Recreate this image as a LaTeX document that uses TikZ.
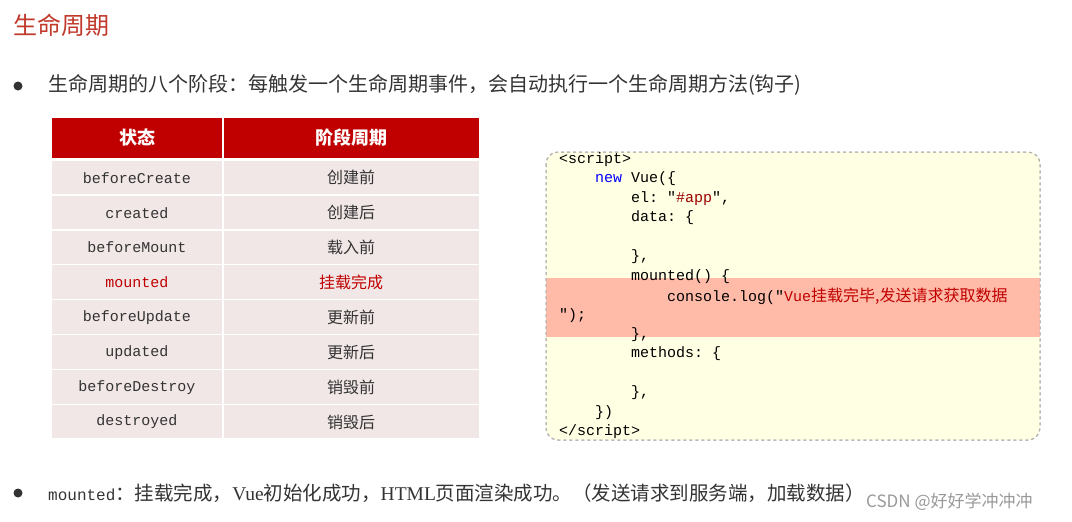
\documentclass[tikz,border=0pt]{standalone}
\usepackage{fontspec}
\setmainfont{Liberation Serif}
\setmonofont{Liberation Mono}
\newfontfamily\cjk{Noto Sans CJK SC}
\definecolor{hdr}{HTML}{C00000}
\definecolor{rowc}{HTML}{F2E7E7}
\definecolor{codebg}{HTML}{FFFFE3}
\definecolor{hl}{HTML}{FFBBA8}
\definecolor{ttl}{HTML}{C0392B}
\definecolor{txt}{HTML}{333333}
\tikzset{
 cell/.style={fill=rowc,draw=white,line width=1.5pt},
 hcell/.style={fill=hdr,draw=white,line width=1.5pt},
 ctxt/.style={anchor=center,font=\ttfamily\fontsize{15}{15}\selectfont,text=txt},
 ztxt/.style={anchor=center,font=\cjk\fontsize{16}{16}\selectfont,text=txt},
 code/.style={anchor=west,inner sep=0pt,font=\ttfamily\fontsize{15}{15}\selectfont}
}
\begin{document}
\begin{tikzpicture}[x=1pt,y=-1pt]
\useasboundingbox (0,0) rectangle (1072,522);
\node[anchor=west,inner sep=0pt,text=ttl,font=\cjk\fontsize{24}{24}\selectfont] (title) at (13,25) {生命周期};
\fill[txt] (18,86) circle (4.5);
\node[anchor=west,inner sep=0pt,text=txt,font=\cjk\fontsize{20}{20}\selectfont] (b1) at (48,85) {生命周期的八个阶段：每触发一个生命周期事件，会自动执行一个生命周期方法(钩子)};
% table
\path[hcell] (51,117) rectangle (223,159);
\path[hcell] (223,117) rectangle (480,159);
\node[text=white,font=\cjk\bfseries\fontsize{18}{18}\selectfont] (h1) at (137,138) {状态};
\node[text=white,font=\cjk\bfseries\fontsize{18}{18}\selectfont] (h2) at (351,138) {阶段周期};
\foreach \a/\b/\c [count=\i from 0] in {beforeCreate/创建前/txt,created/创建后/txt,beforeMount/载入前/txt,mounted/挂载完成/hdr,beforeUpdate/更新前/txt,updated/更新后/txt,beforeDestroy/销毁前/txt,destroyed/销毁后/txt}{
  \pgfmathsetmacro\yt{160+\i*34.9}
  \pgfmathsetmacro\yb{\yt+34.9}
  \pgfmathsetmacro\ym{\yt+17.8}
  \path[cell] (51,\yt) rectangle (223,\yb);
  \path[cell] (223,\yt) rectangle (480,\yb);
  \node[ctxt,text=\c] (s\i) at (137,\ym) {\a};
  \node[ztxt,text=\c] (p\i) at (351,\ym) {\b};
}
% code box
\draw[draw=gray!60,dashed,line width=1pt,fill=codebg,rounded corners=12pt] (546,152) rectangle (1040,440);
\fill[hl] (546,278) rectangle (1040,337);
\draw[draw=gray!60,dashed,line width=1pt,rounded corners=12pt] (546,152) rectangle (1040,440);
\node[code] (l1) at (559,160) {<script>};
\node[code] (l2) at (595,179) {\textcolor{blue}{new} Vue(\{};
\node[code] (l3) at (631,199) {el: "\textcolor{hdr!80!black}{\#app}",};
\node[code] (l4) at (631,218) {data: \{};
\node[code] (l5) at (631,257) {\},};
\node[code] (l6) at (631,277) {mounted() \{};
\node[code] (l7) at (667,296) {console.log("\textcolor{hdr}{Vue{\cjk\fontsize{16}{16}\selectfont 挂载完毕,发送请求获取数据}}};
\node[code] (l8) at (559,316) {");};
\node[code] (l9) at (631,335) {\},};
\node[code] (l10) at (631,354) {methods: \{};
\node[code] (l11) at (631,393) {\},};
\node[code] (l12) at (595,413) {\})};
\node[code] (l13) at (559,432) {</script>};
% bottom
\fill[txt] (18,493) circle (4.5);
\node[anchor=west,inner sep=0pt,text=txt,font=\fontsize{19.5}{19.5}\selectfont] (b2) at (48,493) {{\ttfamily\fontsize{16}{16}\selectfont mounted}{\cjk：挂载完成，}Vue{\cjk 初始化成功，}HTML{\cjk 页面渲染成功。（发送请求到服务端，加载数据）}};
\node[anchor=west,inner sep=0pt,text=gray!80,font=\cjk\fontsize{17}{17}\selectfont] (wm) at (866,502) {CSDN @好好学冲冲冲};
\end{tikzpicture}
\end{document}
